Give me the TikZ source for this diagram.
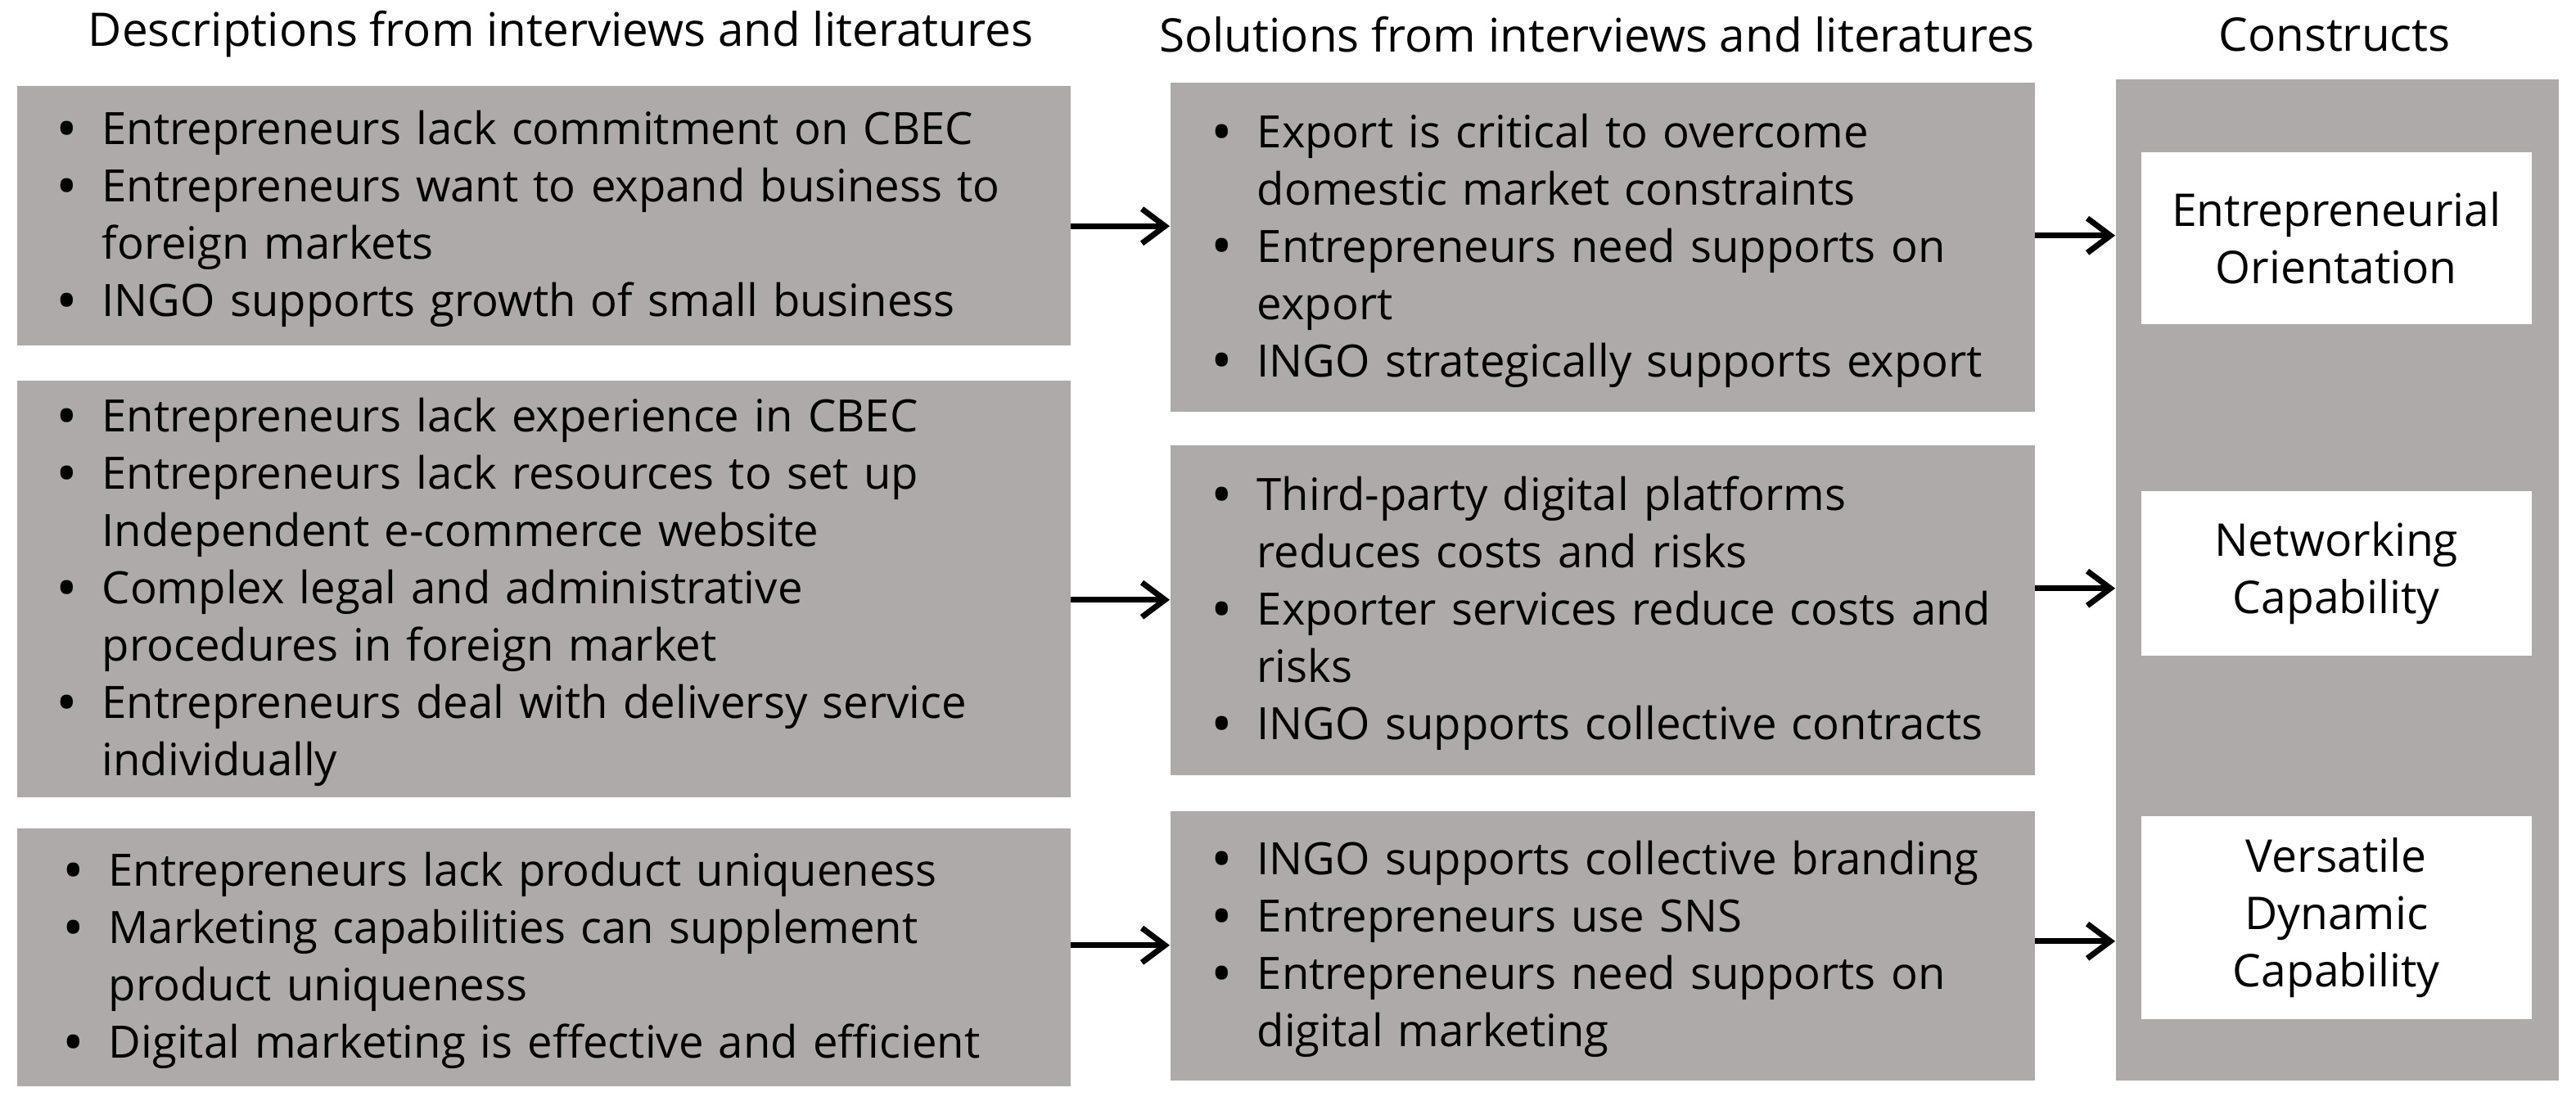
\documentclass[tikz,border=0pt]{standalone}
\usepackage{fontspec}
\setmainfont{Open Sans}
\usetikzlibrary{arrows.meta}
\definecolor{boxgray}{HTML}{AEAAAA}
\newlength{\hng}
\setlength{\hng}{0.56cm}
% one bullet item, later lines hang under the text
\newcommand{\blt}[1]{\par\noindent\hangindent=\hng\hangafter=1\makebox[\hng][l]{\raisebox{-0.2ex}{\scalebox{1.3}{\textbullet}}}#1\par}
\tikzset{
  txt/.style={font=\fontsize{15.5}{19.9}\selectfont},
  hdr/.style={font=\fontsize{16.1}{19.9}\selectfont},
  gbox/.style={txt, fill=boxgray, anchor=north west, inner xsep=0.48cm, inner ysep=0pt, align=left,
    execute at begin node={\par\vspace*{-2mm}}},
  wbox/.style={font=\fontsize{15.7}{19.9}\selectfont, fill=white, anchor=north west, minimum width=4.77cm, inner sep=0pt, align=center},
  arr/.style={line width=2pt, -{Straight Barb[length=8pt,width=12pt]}}
}
\begin{document}
\begin{tikzpicture}
  \useasboundingbox (0,0) rectangle (31.47,-13.44);
  % headers
  \node[hdr] (h1) at (6.85,-0.42) {Descriptions from interviews and literatures};
  \node[hdr] (h2) at (19.51,-0.42) {Solutions from interviews and literatures};
  \node[hdr] (h3) at (28.52,-0.42) {Constructs};
  % descriptions
  \node[gbox, text width=11.91cm, minimum height=3.17cm] (a1) at (0.20,-1.04) {%
    \blt{Entrepreneurs lack commitment on CBEC}
    \blt{Entrepreneurs want to expand business to\newline foreign markets}
    \blt{INGO supports growth of small business}};
  \node[gbox, text width=11.91cm, minimum height=5.09cm] (a2) at (0.20,-4.64) {%
    \blt{Entrepreneurs lack experience in CBEC}
    \blt{Entrepreneurs lack resources to set up\newline Independent e-commerce website}
    \blt{Complex legal and administrative\newline procedures in foreign market}
    \blt{Entrepreneurs deal with deliversy service\newline individually}};
  \node[gbox, inner xsep=0.56cm, text width=11.75cm, minimum height=3.15cm] (a3) at (0.20,-10.11) {%
    \blt{Entrepreneurs lack product uniqueness}
    \blt{Marketing capabilities can supplement\newline product uniqueness}
    \blt{Digital marketing is effective and efficient}};
  % solutions
  \node[gbox, inner xsep=0.50cm, text width=9.56cm, minimum height=4.02cm] (b1) at (14.29,-1.00) {%
    \blt{Export is critical to overcome\newline domestic market constraints}
    \blt{Entrepreneurs need supports on\newline export}
    \blt{INGO strategically supports export}};
  \node[gbox, inner xsep=0.50cm, text width=9.56cm, minimum height=4.03cm] (b2) at (14.29,-5.43) {%
    \blt{Third-party digital platforms\newline reduces costs and risks}
    \blt{Exporter services reduce costs and\newline risks}
    \blt{INGO supports collective contracts}};
  \node[gbox, inner xsep=0.50cm, text width=9.56cm, minimum height=3.29cm] (b3) at (14.29,-9.90) {%
    \blt{INGO supports collective branding}
    \blt{Entrepreneurs use SNS}
    \blt{Entrepreneurs need supports on\newline digital marketing}};
  % constructs
  \node[fill=boxgray, anchor=north west, minimum width=5.41cm, minimum height=12.23cm, inner sep=0pt] (c) at (25.84,-0.96) {};
  \node[wbox, minimum height=2.10cm] (eo) at (26.15,-1.85) {Entrepreneurial\\Orientation};
  \node[wbox, minimum height=2.01cm] (nc) at (26.15,-5.99) {Networking\\Capability};
  \node[wbox, minimum height=2.48cm] (vdc) at (26.15,-9.96) {Versatile\\Dynamic\\Capability};
  % arrows
  \draw[arr] ([yshift=-1.3mm]a1.east) -- ([yshift=-1.3mm]a1.east -| b1.west);
  \draw[arr] ([yshift=-1.35mm]a2.east) -- ([yshift=-1.35mm]a2.east -| b2.west);
  \draw[arr] ([yshift=1.45mm]a3.east) -- ([yshift=1.45mm]a3.east -| b3.west);
  \draw[arr] ([yshift=1.4mm]b1.east) -- ([yshift=1.4mm]b1.east -| c.west);
  \draw[arr] ([yshift=2.65mm]b2.east) -- ([yshift=2.65mm]b2.east -| c.west);
  \draw[arr] ([yshift=0.55mm]b3.east) -- ([yshift=0.55mm]b3.east -| c.west);
\end{tikzpicture}
\end{document}
